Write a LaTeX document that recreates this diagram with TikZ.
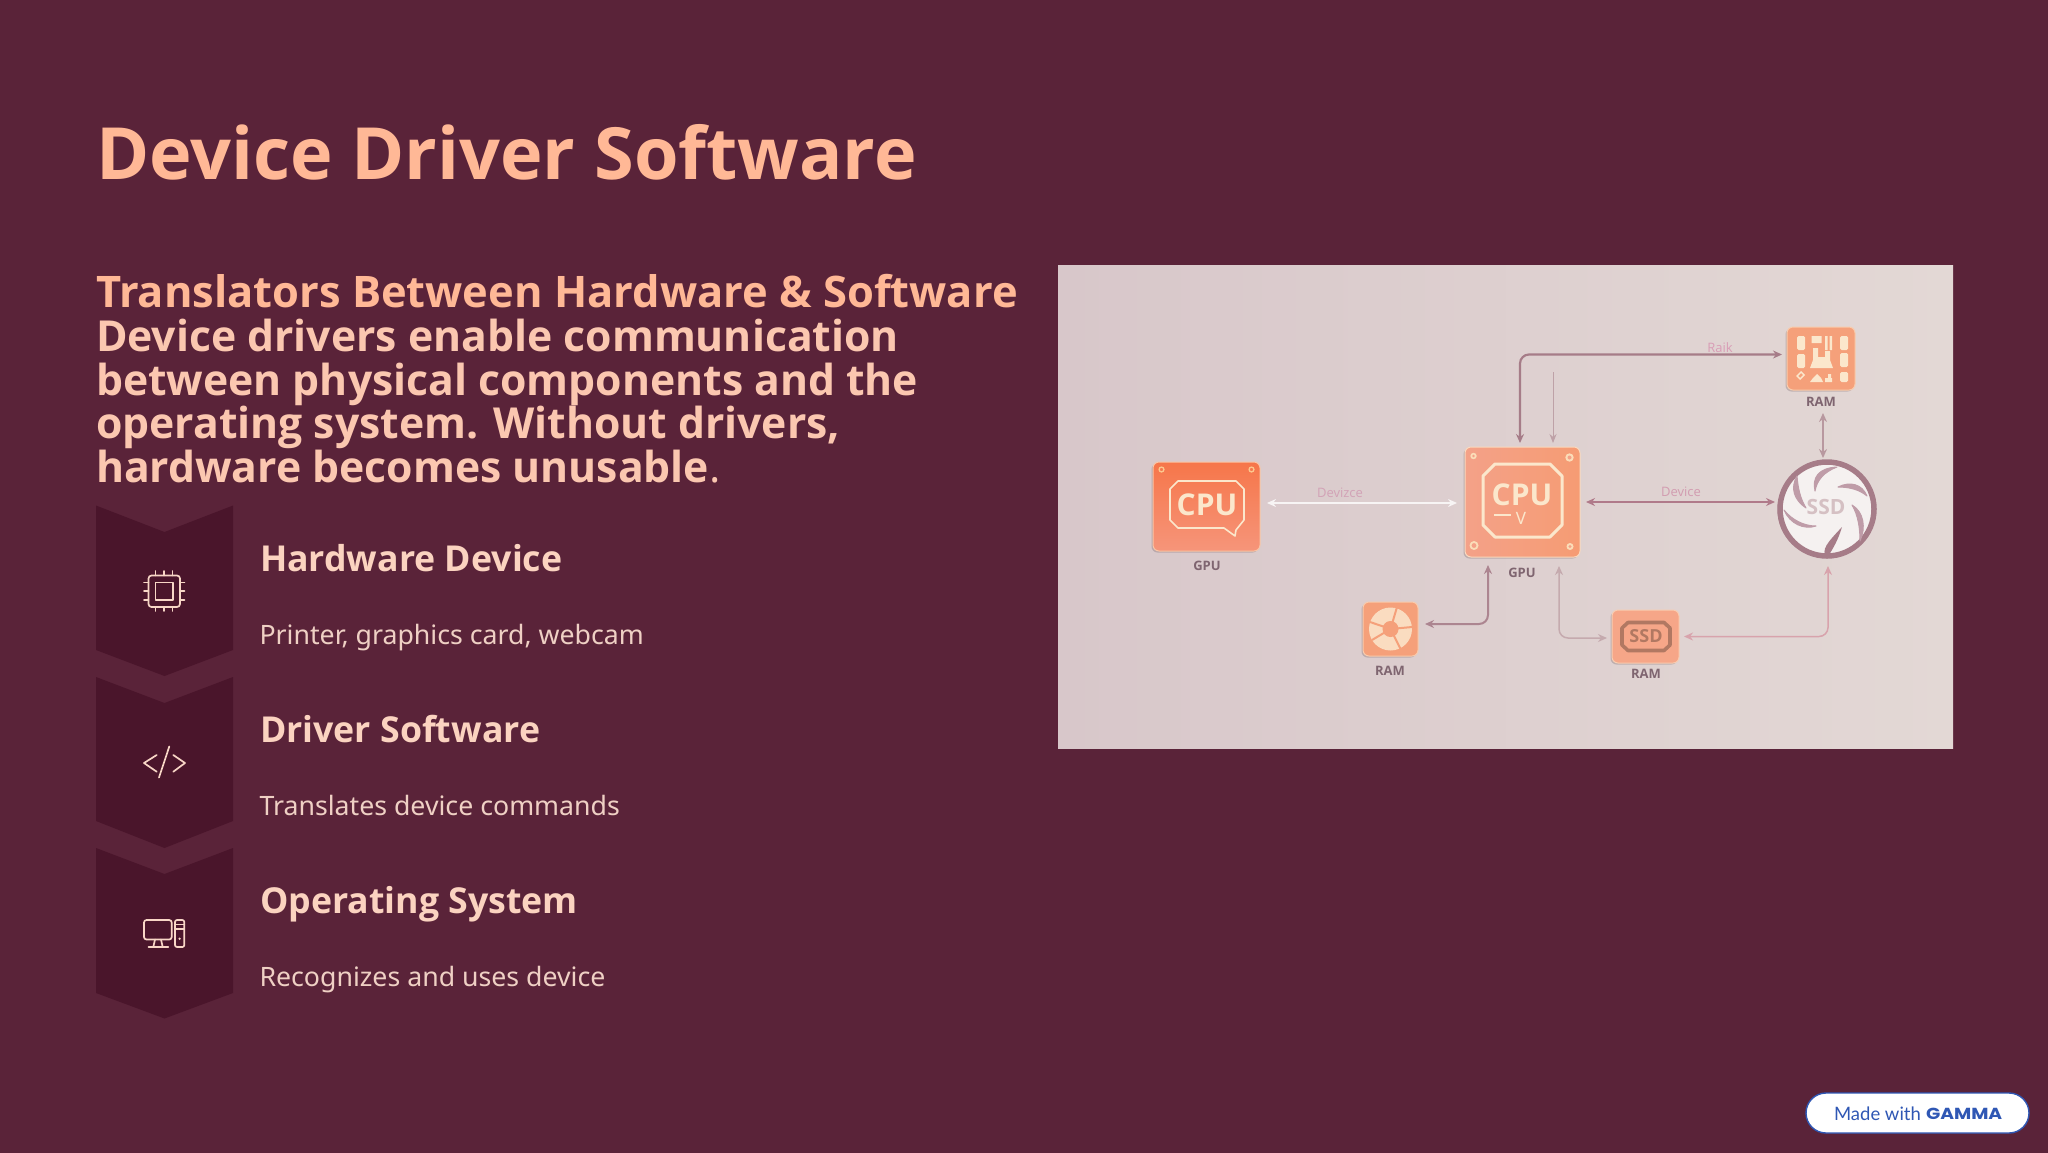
\documentclass[tikz,border=0pt]{standalone}
\usepackage{fontspec}
\setmainfont{Noto Sans}
\newfontfamily\boldf{Open Sans}
\newfontfamily\diagfont{Open Sans}
\newfontfamily\badgefont{Lato}
\newfontfamily\gammafont{Poppins}
\usetikzlibrary{arrows.meta,calc}
\definecolor{pagebg}{HTML}{5A2339}
\definecolor{chev}{HTML}{4A152B}
\definecolor{titlec}{HTML}{FFB896}
\definecolor{bodyc}{HTML}{FBC7B0}
\definecolor{headc}{HTML}{FBD3C0}
\definecolor{subc}{HTML}{EFD0C4}
\definecolor{iconc}{HTML}{F8D6C6}
\definecolor{cream}{HTML}{FBE7CC}
\definecolor{badgeb}{HTML}{2F57B4}
\definecolor{labc}{HTML}{7F6570}
\definecolor{photoL}{HTML}{D8C7CA}
\definecolor{photoR}{HTML}{E3D8D5}
\definecolor{orA}{HTML}{F6764A}
\definecolor{orB}{HTML}{F6957A}
\definecolor{orC}{HTML}{F4A188}
\definecolor{orD}{HTML}{F5A07A}
\definecolor{orE}{HTML}{F6A688}
\definecolor{ringc}{HTML}{A67C88}
\definecolor{bladec}{HTML}{BF9CA8}
\definecolor{edgeA}{HTML}{D2A2B6}
\definecolor{edgeB}{HTML}{D99DB6}
\definecolor{edgeC}{HTML}{D29CB0}
\definecolor{arrD}{HTML}{B07A8A}
\definecolor{arrE}{HTML}{D8A3AC}
\tikzset{
  x=1pt,y=-1pt,
  txt/.style={inner sep=0pt,outer sep=0pt,anchor=base west},
  titlet/.style={txt,text=titlec,font=\boldf\bfseries\fontsize{72}{72}\selectfont},
  leadt/.style={txt,text=titlec,font=\boldf\bfseries\fontsize{43.45}{44}\selectfont},
  bodyt/.style={txt,text=bodyc,font=\boldf\bfseries\fontsize{42.7}{44}\selectfont},
  headt/.style={txt,text=headc,font=\boldf\bfseries\fontsize{35.7}{38}\selectfont},
  subt/.style={txt,text=subc,font=\fontsize{26.7}{30}\selectfont},
  chiplab/.style={inner sep=0pt,outer sep=0pt,anchor=center,text=labc,font=\diagfont\bfseries\fontsize{13}{14}\selectfont},
  edgelab/.style={inner sep=0pt,anchor=center,text=#1,font=\diagfont\fontsize{13}{14}\selectfont},
  chipword/.style={inner sep=0pt,text=cream,font=\boldf\bfseries\fontsize{30}{32}\selectfont},
  chevron/.style={fill=chev,draw=none},
  iconl/.style={draw=iconc,line width=1.7pt,line cap=round,line join=round},
  chip/.style={inner sep=0pt,outer sep=0pt,rounded corners=6pt,draw=#1,line width=1pt,
    preaction={fill=black!55!pagebg,opacity=.18,transform canvas={xshift=-1.5pt,yshift=-1.5pt}}},
  arr/.style={arrows={Stealth[length=9pt,width=8pt]-Stealth[length=9pt,width=8pt]},line width=#1,rounded corners=9pt},
  sarr/.style={arrows={-Stealth[length=9pt,width=7pt]},line width=#1},
}
\begin{document}
\begin{tikzpicture}
\useasboundingbox (0,0) rectangle (2048,1152);
\fill[pagebg] (-3,-3) rectangle (2051,1155);

% title and intro
\node[titlet] (title) at (96,179) {Device Driver Software};
\node[leadt] (lead) at (96,307) {Translators Between Hardware \& Software};
\node[bodyt] (l1) at (96,351) {Device drivers enable communication};
\node[bodyt] (l2) at (96,395) {between physical components and the};
\node[bodyt] (l3) at (96,438) {operating system. Without drivers,};
\node[bodyt] (l4) at (96,482) {hardware becomes unusable\textmd{.}};

% chevrons
\fill[chevron] (96,505.5) -- (164.5,532) -- (233,505.5) -- (233,650) -- (164.5,676) -- (96,650) -- cycle;
\fill[chevron] (96,677) -- (164.5,703) -- (233,677) -- (233,821) -- (164.5,848) -- (96,821) -- cycle;
\fill[chevron] (96,848) -- (164.5,874) -- (233,848) -- (233,993) -- (164.5,1018.5) -- (96,993) -- cycle;

% chip icon
\draw[iconl,rounded corners=3pt] (148.5,575.5) rectangle (180,607);
\draw[iconl] (155.5,582.5) rectangle (173,600);
\foreach \p in {155.5,164,172.5}{
  \draw[iconl] (\p,571) -- (\p,575.5);
  \draw[iconl] (\p,607) -- (\p,611);
}
\foreach \p in {582.5,591,600}{
  \draw[iconl] (144,\p) -- (148.5,\p);
  \draw[iconl] (180,\p) -- (184.5,\p);
}
% code icon
\draw[iconl] (156.7,755) -- (144,763) -- (156.7,771.7);
\draw[iconl] (169.3,746.5) -- (159,777.5);
\draw[iconl] (173.3,755) -- (185,763) -- (173.3,771.7);
% computer icon
\draw[iconl,rounded corners=2.5pt] (144,920) rectangle (171.7,939.5);
\draw[iconl] (155,939.5) -- (153.3,947);
\draw[iconl] (161,939.5) -- (162.7,947);
\draw[iconl] (148.5,947) -- (168.3,947);
\draw[iconl,rounded corners=2pt] (175,920) rectangle (184.3,947);
\draw[iconl] (175,924.6) -- (184.3,924.6);
\draw[iconl] (175,929) -- (184.3,929);
\fill[iconc] (179.6,938.7) circle (1.3);

% list text
\node[headt] (h1) at (260,571) {Hardware Device};
\node[subt] (s1) at (259.5,644) {Printer, graphics card, webcam};
\node[headt] (h2) at (260,742) {Driver Software};
\node[subt] (s2) at (259.5,815) {Translates device commands};
\node[headt] (h3) at (260,913) {Operating System};
\node[subt] (s3) at (259.5,986) {Recognizes and uses device};

% photo
\path[left color=photoL,right color=photoR] (1058,265) rectangle (1953,748.5);

% diagram chips
\node[chip=cream!70!orA,top color=orA,bottom color=orB,minimum width=107pt,minimum height=89pt] (gpu) at (1206.5,506.5) {};
\node[chip=cream!80!orC,left color=orC,right color=orC!85!orange,minimum width=115pt,minimum height=110pt] (cpu) at (1522.5,502) {};
\node[chip=cream!60!orD,fill=orD,minimum width=68pt,minimum height=63pt] (ramT) at (1821,358.5) {};
\node[chip=cream!60!orD,fill=orD,minimum width=55pt,minimum height=54pt] (ramF) at (1390.5,629) {};
\node[chip=cream!60!orE,fill=orE,minimum width=67pt,minimum height=53pt] (ramS) at (1645.5,636.5) {};
\node[circle,inner sep=0pt,outer sep=0pt,minimum size=94pt,fill=white!65!photoR,draw=ringc,line width=5.5pt,
  preaction={fill=ringc!80!black,opacity=.45,transform canvas={xshift=-2.5pt,yshift=-1pt}}] (fan) at (1827,509) {};

% gpu chip content
\draw[cream,line width=1.6pt,line join=round] (1178,481) -- (1236,481) -- (1244,489) -- (1244,520) -- (1236,530) -- (1235,536) -- (1224,528) -- (1178,528) -- (1170,520) -- (1170,489) -- cycle;
\node[chipword] (gpuT) at (1207,505) {CPU};
\foreach \q in {(1161.5,469.5),(1251.5,469.5)} \draw[cream!70!orange,line width=1.3pt] \q circle (2.4);

% cpu chip content
\draw[cream,line width=3pt,line join=round] (1495,464) -- (1550,464) -- (1562,476) -- (1562,525) -- (1550,537) -- (1495,537) -- (1483,525) -- (1483,476) -- cycle;
\node[chipword] (cpuT) at (1522,495) {CPU};
\node[inner sep=0pt,text=cream,font=\fontsize{17}{17}\selectfont] (cpuV) at (1521,518) {V};
\draw[cream,line width=2pt] (1494,515) -- (1511,515);
\fill[cream!90!orange] (1473.5,456) circle (3.2) (1569.5,457.5) circle (4.2) (1474,545.5) circle (4.5) (1570,546.5) circle (3.5);
\fill[orC] (1473.5,456) circle (1.4) (1569.5,457.5) circle (2) (1474,545.5) circle (2.4) (1570,546.5) circle (1.7);

% top ram content
\fill[cream,rounded corners=1.5pt] (1797,336) rectangle (1805,350) (1797,354) rectangle (1805,368) (1840,336) rectangle (1848,350) (1840,353) rectangle (1848,367) (1840,372) rectangle (1848,382);
\fill[cream] (1811.5,336) rectangle (1821.5,343) (1825,336) rectangle (1827.5,350) (1829.5,336) rectangle (1832,350);
\fill[cream] (1810,368) -- (1813,360) -- (1813,348) -- (1818,348) -- (1818,357) -- (1825,357) -- (1825,351) -- (1830,351) -- (1830,360) -- (1833,368) -- cycle;
\fill[cream] (1810,382) -- (1813,378) -- (1817,374) -- (1821,378) -- (1823,382) -- cycle (1825,382) rectangle (1832,378) (1828,382) rectangle (1831,374);
\draw[cream,line width=1.4pt] (1797,376) -- (1801,372) -- (1804,375) -- (1800,379) -- cycle;

% fan-ram content
\fill[cream!85!orD] (1390.5,629) circle (21.5);
\fill[orD] (1390.5,629) circle (8);
\draw[orD,line width=2pt] (1390.5,629) -- (1397,607) (1390.5,629) -- (1412,627) (1390.5,629) -- (1401,650) (1390.5,629) -- (1372,640) (1390.5,629) -- (1370,622);

% ssd chip content
\draw[draw=orE!60!black!70!orE,line width=3.6pt,line join=round] (1628,622.5) -- (1664,622.5) -- (1670,628) -- (1670,645) -- (1664,650.5) -- (1628,650.5) -- (1622,645) -- (1622,628) -- cycle;
\node[inner sep=0pt,text=orE!60!black!70!orE,font=\diagfont\bfseries\fontsize{18}{18}\selectfont] (ssdT) at (1646,636) {SSD};

% fan blades
\filldraw[bladec,line width=1pt,line join=round] (1837,467) .. controls (1818,468) and (1812,478) .. (1815,491) .. controls (1817,480) and (1824,472) .. cycle;
\filldraw[bladec,line width=1pt,line join=round] (1838,487) .. controls (1850,481) and (1862,484) .. (1867,496) .. controls (1860,490) and (1850,487) .. cycle;
\filldraw[bladec,line width=1pt,line join=round] (1852,505) .. controls (1864,512) and (1866,528) .. (1860,541) .. controls (1860,528) and (1858,515) .. cycle;
\filldraw[bladec,line width=1pt,line join=round] (1784,510) .. controls (1790,524) and (1804,530) .. (1816,526) .. controls (1804,526) and (1792,520) .. cycle;
\filldraw[bladec,line width=1pt,line join=round] (1797,476) .. controls (1790,488) and (1794,500) .. (1806,508) .. controls (1800,498) and (1798,488) .. cycle;
\fill[ringc] (1842,527) .. controls (1838,540) and (1834,547) .. (1827,558) .. controls (1820,550) and (1828,542) .. cycle;
\node[inner sep=0pt,text=bladec!40!photoR,font=\diagfont\bfseries\fontsize{21}{21}\selectfont] (fanT) at (1826,507) {SSD};

% chip labels
\node[chiplab] (gpuL) at (1207,566) {GPU};
\node[chiplab] (cpuL) at (1522,573) {GPU};
\node[chiplab] (ramFL) at (1390,671) {RAM};
\node[chiplab] (ramSL) at (1646,674) {RAM};
\node[chiplab] (ramTL) at (1821,402) {RAM};

% connectors
\draw[arr=2pt,draw=white!80!photoL,rounded corners=0pt] ([xshift=7pt,yshift=3.5pt]gpu.east) -- ([xshift=-8pt,yshift=-1pt]cpu.west);
\node[edgelab=edgeA] (dev1) at (1340,493) {Devizce};
\draw[arr=2.2pt,draw=ringc] ([xshift=-5pt,yshift=4pt]ramT.west) -| ([xshift=-2.5pt,yshift=4pt]cpu.north);
\draw[sarr=1pt,draw=ringc!60!photoR] ([xshift=30.5pt,yshift=75pt]cpu.north) -- ([xshift=30.5pt,yshift=4pt]cpu.north);
\node[edgelab=edgeB] (rail) at (1720,348) {Raik};
\draw[arr=2.4pt,draw=arrD,rounded corners=0pt] ([xshift=6pt]cpu.east) -- ([xshift=-5pt,yshift=7pt]fan.west);
\node[edgelab=edgeC] (dev2) at (1681,492) {Device};
\draw[arr=1.5pt,draw=ringc!70!photoR,rounded corners=0pt] ([xshift=2pt,yshift=-23pt]ramT.south) -- ([yshift=4pt,xshift=-4pt]fan.north);
\draw[arr=2pt,draw=ringc!90!photoR] ([xshift=7pt,yshift=5pt]ramF.east) -| ([xshift=-34.5pt,yshift=-8pt]cpu.south);
\draw[arr=1.5pt,draw=ringc!50!photoR] ([xshift=36.5pt,yshift=-9pt]cpu.south) |- ([xshift=-5pt,yshift=-1.5pt]ramS.west);
\draw[arr=1.5pt,draw=arrE] ([xshift=5pt]ramS.east) -| ([xshift=1pt,yshift=-10pt]fan.south);

% badge
\node[inner sep=0pt,outer sep=0pt,fill=white,draw=badgeb,line width=1.4pt,rounded corners=20pt,minimum width=223pt,minimum height=40pt] (badge) at (1917.5,1113) {};
\node[txt,text=badgeb,font=\badgefont\fontsize{18.5}{20}\selectfont] (made) at (1834,1120) {Made with};
\node[txt,xscale=1.17,text=badgeb,font=\gammafont\bfseries\fontsize{16}{17}\selectfont] (gamma) at (1926,1119) {GAMMA};
\end{tikzpicture}
\end{document}
